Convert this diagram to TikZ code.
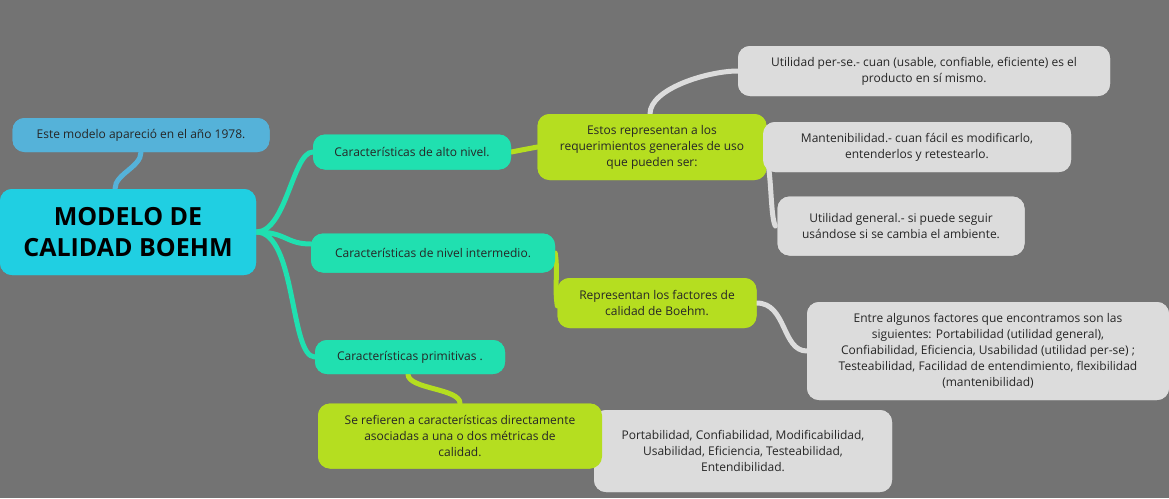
\documentclass[tikz,border=0pt]{standalone}
\usepackage{fontspec}
\setmainfont{Open Sans}
\begin{document}
\begin{tikzpicture}[x=1pt,y=-1pt,
  box/.style={rounded corners=12pt,align=center,inner sep=0pt,font=\fontsize{12}{16}\selectfont,text=black!85},
  link/.style={line width=5pt,line cap=round},
]
\definecolor{bg}{HTML}{737373}
\definecolor{cblue}{HTML}{55B2D9}
\definecolor{ccyan}{HTML}{20CFE2}
\definecolor{cteal}{HTML}{20E0B0}
\definecolor{cgreen}{HTML}{B5DE20}
\definecolor{cgray}{HTML}{DCDCDC}
\fill[bg] (0,0) rectangle (1169,498);
\useasboundingbox (0,0) rectangle (1169,498);
% nodes
\node[box,fill=cblue,minimum width=257pt,minimum height=34pt] (este) at (141,135) {Este modelo apareció en el año 1978.};
\node[box,fill=ccyan,minimum width=256pt,minimum height=86pt,font=\bfseries\fontsize{25}{31}\selectfont,text=black] (main) at (128,232) {MODELO DE\\CALIDAD BOEHM};
\node[box,fill=cteal,minimum width=198pt,minimum height=35pt] (alto) at (412,152) {Características de alto nivel.};
\node[box,fill=cteal,minimum width=244pt,minimum height=39pt] (inter) at (433,253) {Características de nivel intermedio.};
\node[box,fill=cteal,minimum width=190pt,minimum height=34pt] (prim) at (410,357) {Características primitivas .};
\node[box,fill=cgreen,minimum width=229pt,minimum height=66pt] (estos) at (652,147) {Estos representan a los\\requerimientos generales de uso\\que pueden ser:};
\node[box,fill=cgray,minimum width=372pt,minimum height=50pt] (per) at (924,71) {Utilidad per-se.- cuan (usable, confiable, eficiente) es el\\producto en sí mismo.};
\node[box,fill=cgray,minimum width=308pt,minimum height=50pt] (mant) at (917,147) {Mantenibilidad.- cuan fácil es modificarlo,\\entenderlos y retestearlo.};
\node[box,fill=cgray,minimum width=247pt,minimum height=59pt] (gen) at (901,226) {Utilidad general.- si puede seguir\\usándose si se cambia el ambiente.};
\node[box,fill=cgreen,minimum width=199pt,minimum height=50pt] (repr) at (657,303) {Representan los factores de\\calidad de Boehm.};
\node[box,fill=cgray,minimum width=362pt,minimum height=98pt] (entre) at (988,351) {Entre algunos factores que encontramos son las\\siguientes: Portabilidad (utilidad general),\\Confiabilidad, Eficiencia, Usabilidad (utilidad per-se) ;\\Testeabilidad, Facilidad de entendimiento, flexibilidad\\(mantenibilidad)};
\node[box,fill=cgray,minimum width=298pt,minimum height=82pt] (porta) at (743,451) {Portabilidad, Confiabilidad, Modificabilidad,\\Usabilidad, Eficiencia, Testeabilidad,\\Entendibilidad.};
\node[box,fill=cgreen,minimum width=284pt,minimum height=65pt] (sere) at (460,436) {Se refieren a características directamente\\asociadas a una o dos métricas de\\calidad.};
% connectors
\begin{scope}[on background layer/.style={}]
\end{scope}
\begin{pgfonlayer}{main}\end{pgfonlayer}
\draw[link,cblue] ([xshift=-13pt]main.north) .. controls +(0,-15) and +(0,15) .. (este.south);
\draw[link,cteal] (main.east) .. controls +(30,0) and +(-20,0) .. (alto.west);
\draw[link,cteal] (main.east) .. controls +(30,0) and +(-25,0) .. ([yshift=9pt]inter.west);
\draw[link,cteal] (main.east) .. controls +(40,0) and +(-25,0) .. (prim.west);
\draw[link,cgreen] (alto.east) -- (estos.west);
\draw[link,cgray] ([xshift=-2pt]estos.north) .. controls +(0,-25) and +(-30,0) .. (per.west);
\draw[link,cgray] ([yshift=-12pt]estos.east) .. controls +(5,15) and +(-5,-10) .. ([xshift=-2pt]gen.west);
\draw[link,cgreen] (inter.east) .. controls +(3,20) and +(-3,-20) .. ([yshift=-3pt]repr.west);
\draw[link,cgray] (repr.east) .. controls +(30,0) and +(-25,0) .. (entre.west);
\draw[link,cgreen] ([xshift=-2pt]prim.south) .. controls +(0,15) and +(0,-15) .. (sere.north);
% redraw nodes above connectors
\node[box,fill=cblue,minimum width=257pt,minimum height=34pt] at (141,135) {Este modelo apareció en el año 1978.};
\node[box,fill=ccyan,minimum width=256pt,minimum height=86pt,font=\bfseries\fontsize{25}{31}\selectfont,text=black] at (128,232) {MODELO DE\\CALIDAD BOEHM};
\node[box,fill=cteal,minimum width=198pt,minimum height=35pt] at (412,152) {Características de alto nivel.};
\node[box,fill=cteal,minimum width=244pt,minimum height=39pt] at (433,253) {Características de nivel intermedio.};
\node[box,fill=cteal,minimum width=190pt,minimum height=34pt] at (410,357) {Características primitivas .};
\node[box,fill=cgreen,minimum width=229pt,minimum height=66pt] at (652,147) {Estos representan a los\\requerimientos generales de uso\\que pueden ser:};
\node[box,fill=cgray,minimum width=372pt,minimum height=50pt] at (924,71) {Utilidad per-se.- cuan (usable, confiable, eficiente) es el\\producto en sí mismo.};
\node[box,fill=cgray,minimum width=308pt,minimum height=50pt] at (917,147) {Mantenibilidad.- cuan fácil es modificarlo,\\entenderlos y retestearlo.};
\node[box,fill=cgray,minimum width=247pt,minimum height=59pt] at (901,226) {Utilidad general.- si puede seguir\\usándose si se cambia el ambiente.};
\node[box,fill=cgreen,minimum width=199pt,minimum height=50pt] at (657,303) {Representan los factores de\\calidad de Boehm.};
\node[box,fill=cgray,minimum width=362pt,minimum height=98pt] at (988,351) {Entre algunos factores que encontramos son las\\siguientes: Portabilidad (utilidad general),\\Confiabilidad, Eficiencia, Usabilidad (utilidad per-se) ;\\Testeabilidad, Facilidad de entendimiento, flexibilidad\\(mantenibilidad)};
\node[box,fill=cgray,minimum width=298pt,minimum height=82pt] at (743,451) {Portabilidad, Confiabilidad, Modificabilidad,\\Usabilidad, Eficiencia, Testeabilidad,\\Entendibilidad.};
\node[box,fill=cgreen,minimum width=284pt,minimum height=65pt] at (460,436) {Se refieren a características directamente\\asociadas a una o dos métricas de\\calidad.};
\end{tikzpicture}
\end{document}
